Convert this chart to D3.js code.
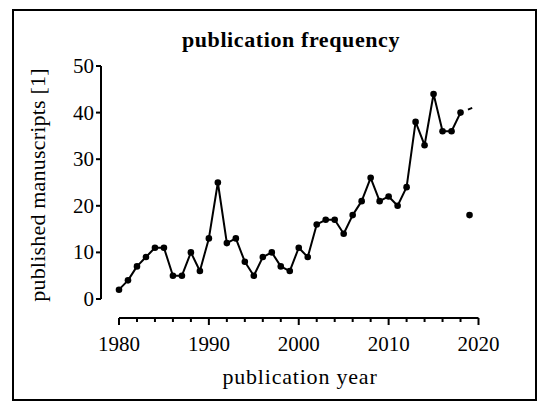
<!DOCTYPE html>
<html>
<head>
<meta charset="utf-8">
<script src="https://cdn.jsdelivr.net/npm/d3@7"></script>
<style>
  body { margin: 0; background: #fff; }
</style>
</head>
<body>
<script>
// values
const years = [1980, 1981, 1982, 1983, 1984, 1985, 1986, 1987, 1988, 1989,
  1990, 1991, 1992, 1993, 1994, 1995, 1996, 1997, 1998, 1999,
  2000, 2001, 2002, 2003, 2004, 2005, 2006, 2007, 2008, 2009,
  2010, 2011, 2012, 2013, 2014, 2015, 2016, 2017, 2018];
const counts = [2, 4, 7, 9, 11, 11, 5, 5, 10, 6,
  13, 25, 12, 13, 8, 5, 9, 10, 7, 6,
  11, 9, 16, 17, 17, 14, 18, 21, 26, 21,
  22, 20, 24, 38, 33, 44, 36, 36, 40];
const partialYear = [2019];
const partialCount = [18];
const trendYears = [2018, 2019.3];
const trendCounts = [40, 41];
const yTicks = [0, 10, 20, 30, 40, 50];
const xLabels = [1980, 1990, 2000, 2010, 2020];

const serif = "'Liberation Serif', 'Times New Roman', Times, 'DejaVu Serif', serif";

let svg = null;
let x, y = null;

main();

function main() {
  appendSvg("body");
  setupScales();
  appendFrame();
  appendXAxis();
  appendYAxis();
  appendLine();
  addPoints();
  addTitles();
}

function appendSvg(domElement) {
  svg = d3.select(domElement).append("svg")
    .attr("width", 550)
    .attr("height", 412)
    .attr("font-family", serif);
}

function setupScales() {
  x = d3.scaleLinear().domain([1980, 2020]).range([119, 478.5]);
  y = d3.scaleLinear().domain([0, 50]).range([299, 66]);
}

function appendFrame() {
  svg.append("rect")
    .attr("x", 13).attr("y", 10)
    .attr("width", 523).attr("height", 390)
    .attr("fill", "none")
    .attr("stroke", "#000")
    .attr("stroke-width", 2);
}

function appendXAxis() {
  const g = svg.append("g").attr("transform", "translate(0,318)");
  g.append("line")
    .attr("x1", x(1980)).attr("x2", x(2020))
    .attr("stroke", "#000").attr("stroke-width", 2);
  // tick every two years, longer at decades
  g.selectAll("line.tick")
    .data(d3.range(1980, 2021, 2))
    .enter().append("line")
    .attr("class", "tick")
    .attr("x1", d => x(d)).attr("x2", d => x(d))
    .attr("y1", 0).attr("y2", d => d % 10 === 0 ? 7 : 4)
    .attr("stroke", "#000").attr("stroke-width", 2);
  g.selectAll("text")
    .data(xLabels)
    .enter().append("text")
    .attr("x", d => x(d))
    .attr("y", 33)
    .attr("text-anchor", "middle")
    .attr("font-family", serif)
    .attr("font-size", 21)
    .text(d => d);
}

function appendYAxis() {
  const g = svg.append("g").attr("transform", "translate(101,0)");
  g.append("line")
    .attr("y1", y(0)).attr("y2", y(50))
    .attr("stroke", "#000").attr("stroke-width", 2);
  g.selectAll("line.tick")
    .data(yTicks)
    .enter().append("line")
    .attr("class", "tick")
    .attr("x1", -5).attr("x2", 0)
    .attr("y1", d => y(d)).attr("y2", d => y(d))
    .attr("stroke", "#000").attr("stroke-width", 2);
  g.selectAll("text")
    .data(yTicks)
    .enter().append("text")
    .attr("x", -7)
    .attr("y", d => y(d) + 7)
    .attr("text-anchor", "end")
    .attr("font-family", serif)
    .attr("font-size", 21)
    .text(d => d);
}

function appendLine() {
  const line = d3.line()
    .x(d => x(d[0]))
    .y(d => y(d[1]));

  svg.append("path")
    .datum(d3.zip(years, counts))
    .attr("fill", "none")
    .attr("stroke", "#000")
    .attr("stroke-width", 2)
    .attr("stroke-linejoin", "round")
    .attr("d", line);

  // short dashed continuation after the last full year
  svg.append("path")
    .datum(d3.zip(trendYears, trendCounts))
    .attr("fill", "none")
    .attr("stroke", "#000")
    .attr("stroke-width", 2)
    .attr("stroke-dasharray", "0,8,5,100")
    .attr("d", line);
}

function addPoints() {
  svg.selectAll("circle.pt")
    .data(d3.zip(years.concat(partialYear), counts.concat(partialCount)))
    .enter().append("circle")
    .attr("class", "pt")
    .attr("cx", d => x(d[0]))
    .attr("cy", d => y(d[1]))
    .attr("r", 3.3)
    .attr("fill", "#000");
}

function addTitles() {
  svg.append("text")
    .attr("x", 291).attr("y", 47)
    .attr("text-anchor", "middle")
    .attr("font-family", serif)
    .attr("font-size", 22)
    .attr("font-weight", "bold")
    .attr("letter-spacing", 0.6)
    .text("publication frequency");

  svg.append("text")
    .attr("x", 300).attr("y", 384)
    .attr("text-anchor", "middle")
    .attr("font-family", serif)
    .attr("font-size", 22)
    .attr("letter-spacing", 0.8)
    .text("publication year");

  svg.append("text")
    .attr("transform", "translate(45,185) rotate(-90)")
    .attr("text-anchor", "middle")
    .attr("font-family", serif)
    .attr("font-size", 22)
    .attr("letter-spacing", 0.2)
    .text("published manuscripts [1]");
}
</script>
</body>
</html>
